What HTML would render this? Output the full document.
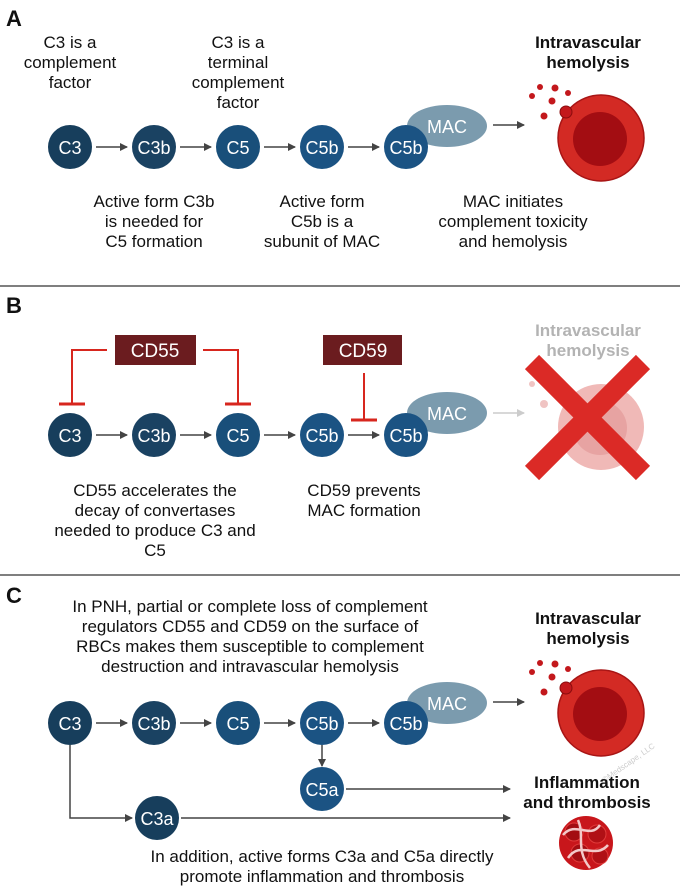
<!DOCTYPE html>
<html><head><meta charset="utf-8"><style>
html,body{margin:0;padding:0;background:#fff}
svg{display:block}
text{font-family:"Liberation Sans",Arial,sans-serif;font-size:17px;fill:#111;text-anchor:middle}
.b{font-weight:bold}
.lab{font-size:22px;font-weight:bold;text-anchor:start}
.ct{fill:#fff;font-size:18px}
</style></head><body>
<svg width="680" height="894" viewBox="0 0 680 894" xmlns="http://www.w3.org/2000/svg">
<defs>
<marker id="ah" markerWidth="8" markerHeight="8" refX="7" refY="4" orient="auto" markerUnits="userSpaceOnUse"><path d="M0,0 L8,4 L0,8 z" fill="#444"/></marker>
<marker id="ahg" markerWidth="8" markerHeight="8" refX="7" refY="4" orient="auto" markerUnits="userSpaceOnUse"><path d="M0,0 L8,4 L0,8 z" fill="#ccc"/></marker>
</defs>

<!-- Panel A -->
<text class="lab" x="6" y="26">A</text>
<text x="70" y="48">C3 is a</text><text x="70" y="68">complement</text><text x="70" y="88">factor</text>
<text x="238" y="48">C3 is a</text><text x="238" y="68">terminal</text><text x="238" y="88">complement</text><text x="238" y="108">factor</text>
<text class="b" x="588" y="48">Intravascular</text><text class="b" x="588" y="68">hemolysis</text>
<g stroke="#444" stroke-width="1.5" marker-end="url(#ah)">
<line x1="96" y1="147" x2="127" y2="147"/><line x1="180" y1="147" x2="211" y2="147"/><line x1="264" y1="147" x2="295" y2="147"/><line x1="348" y1="147" x2="379" y2="147"/><line x1="493" y1="125" x2="524" y2="125"/>
</g>
<ellipse cx="447" cy="126" rx="40" ry="21" fill="#7b9bae"/><text class="ct" x="447" y="133">MAC</text>
<circle cx="70" cy="147" r="22" fill="#173e5c"/><text class="ct" x="70" y="154">C3</text>
<circle cx="154" cy="147" r="22" fill="#1a4262"/><text class="ct" x="154" y="154">C3b</text>
<circle cx="238" cy="147" r="22" fill="#194f7a"/><text class="ct" x="238" y="154">C5</text>
<circle cx="322" cy="147" r="22" fill="#1b5383"/><text class="ct" x="322" y="154">C5b</text>
<circle cx="406" cy="147" r="22" fill="#1b5383"/><text class="ct" x="406" y="154">C5b</text>
<g>
<circle cx="601" cy="138" r="43" fill="#d32a24" stroke="#a81515" stroke-width="1.5"/><circle cx="600" cy="139" r="27" fill="#a30d12"/>
<circle cx="566" cy="112" r="6" fill="#c3181c" stroke="#8a0c0e"/>
<circle cx="544" cy="116" r="3.5" fill="#c3181c"/><circle cx="552" cy="101" r="3.5" fill="#c3181c"/><circle cx="540" cy="87" r="3" fill="#c3181c"/><circle cx="532" cy="96" r="3" fill="#c3181c"/><circle cx="555" cy="88" r="3.5" fill="#c3181c"/><circle cx="568" cy="93" r="3" fill="#c3181c"/>
</g>
<text x="154" y="207">Active form C3b</text><text x="154" y="227">is needed for</text><text x="154" y="247">C5 formation</text>
<text x="322" y="207">Active form</text><text x="322" y="227">C5b is a</text><text x="322" y="247">subunit of MAC</text>
<text x="513" y="207">MAC initiates</text><text x="513" y="227">complement toxicity</text><text x="513" y="247">and hemolysis</text>
<line x1="0" y1="286" x2="680" y2="286" stroke="#555" stroke-width="1.5"/>

<!-- Panel B -->
<text class="lab" x="6" y="313">B</text>
<text class="b" x="588" y="336" style="fill:#b3b3b3">Intravascular</text><text class="b" x="588" y="356" style="fill:#b3b3b3">hemolysis</text>
<rect x="115" y="335" width="81" height="30" fill="#6b1c1f"/><text x="155" y="357" style="fill:#fff;font-size:19px">CD55</text>
<rect x="323" y="335" width="79" height="30" fill="#6b1c1f"/><text x="363" y="357" style="fill:#fff;font-size:19px">CD59</text>
<g stroke="#d7261e" stroke-width="2" fill="none">
<polyline points="107,350 72,350 72,404"/><line x1="59" y1="404" x2="85" y2="404" stroke-width="3"/>
<polyline points="203,350 238,350 238,404"/><line x1="225" y1="404" x2="251" y2="404" stroke-width="3"/>
<line x1="364" y1="373" x2="364" y2="420"/><line x1="351" y1="420" x2="377" y2="420" stroke-width="3"/>
</g>
<g stroke="#444" stroke-width="1.5" marker-end="url(#ah)">
<line x1="96" y1="435" x2="127" y2="435"/><line x1="180" y1="435" x2="211" y2="435"/><line x1="264" y1="435" x2="295" y2="435"/><line x1="348" y1="435" x2="379" y2="435"/>
</g>
<line x1="493" y1="413" x2="524" y2="413" stroke="#ccc" stroke-width="1.5" marker-end="url(#ahg)"/>
<ellipse cx="447" cy="413" rx="40" ry="21" fill="#7b9bae"/><text class="ct" x="447" y="420">MAC</text>
<circle cx="70" cy="435" r="22" fill="#173e5c"/><text class="ct" x="70" y="442">C3</text>
<circle cx="154" cy="435" r="22" fill="#1a4262"/><text class="ct" x="154" y="442">C3b</text>
<circle cx="238" cy="435" r="22" fill="#194f7a"/><text class="ct" x="238" y="442">C5</text>
<circle cx="322" cy="435" r="22" fill="#1b5383"/><text class="ct" x="322" y="442">C5b</text>
<circle cx="406" cy="435" r="22" fill="#1b5383"/><text class="ct" x="406" y="442">C5b</text>
<circle cx="601" cy="427" r="43" fill="#f0b9b7"/><circle cx="600" cy="428" r="27" fill="#e7a3a2"/>
<circle cx="544" cy="404" r="4" fill="#f0c4c3"/><circle cx="532" cy="384" r="3" fill="#f0c4c3"/>
<g stroke="#db2a26" stroke-width="20"><line x1="532" y1="362" x2="643" y2="473"/><line x1="643" y1="362" x2="532" y2="473"/></g>
<text x="155" y="496">CD55 accelerates the</text><text x="155" y="516">decay of convertases</text><text x="155" y="536">needed to produce C3 and</text><text x="155" y="556">C5</text>
<text x="364" y="496">CD59 prevents</text><text x="364" y="516">MAC formation</text>
<line x1="0" y1="575" x2="680" y2="575" stroke="#555" stroke-width="1.5"/>

<!-- Panel C -->
<text class="lab" x="6" y="603">C</text>
<text x="250" y="612">In PNH, partial or complete loss of complement</text>
<text x="250" y="632">regulators CD55 and CD59 on the surface of</text>
<text x="250" y="652">RBCs makes them susceptible to complement</text>
<text x="250" y="672">destruction and intravascular hemolysis</text>
<text class="b" x="588" y="624">Intravascular</text><text class="b" x="588" y="644">hemolysis</text>
<g stroke="#444" stroke-width="1.5" fill="none">
<line x1="96" y1="723" x2="127" y2="723" marker-end="url(#ah)"/><line x1="180" y1="723" x2="211" y2="723" marker-end="url(#ah)"/><line x1="264" y1="723" x2="295" y2="723" marker-end="url(#ah)"/><line x1="348" y1="723" x2="379" y2="723" marker-end="url(#ah)"/>
<line x1="493" y1="702" x2="524" y2="702" marker-end="url(#ah)"/>
<line x1="322" y1="745" x2="322" y2="766" marker-end="url(#ah)"/>
<polyline points="70,745 70,818 132,818" marker-end="url(#ah)"/>
<line x1="346" y1="789" x2="510" y2="789" marker-end="url(#ah)"/>
<line x1="181" y1="818" x2="510" y2="818" marker-end="url(#ah)"/>
</g>
<ellipse cx="447" cy="703" rx="40" ry="21" fill="#7b9bae"/><text class="ct" x="447" y="710">MAC</text>
<circle cx="70" cy="723" r="22" fill="#173e5c"/><text class="ct" x="70" y="730">C3</text>
<circle cx="154" cy="723" r="22" fill="#1a4262"/><text class="ct" x="154" y="730">C3b</text>
<circle cx="238" cy="723" r="22" fill="#194f7a"/><text class="ct" x="238" y="730">C5</text>
<circle cx="322" cy="723" r="22" fill="#1b5383"/><text class="ct" x="322" y="730">C5b</text>
<circle cx="406" cy="723" r="22" fill="#1b5383"/><text class="ct" x="406" y="730">C5b</text>
<circle cx="322" cy="789" r="22" fill="#1b5383"/><text class="ct" x="322" y="796">C5a</text>
<circle cx="157" cy="818" r="22" fill="#173e5c"/><text class="ct" x="157" y="825">C3a</text>
<circle cx="601" cy="713" r="43" fill="#d32a24" stroke="#a81515" stroke-width="1.5"/><circle cx="600" cy="714" r="27" fill="#a30d12"/>
<circle cx="566" cy="688" r="6" fill="#c3181c" stroke="#8a0c0e"/>
<circle cx="544" cy="692" r="3.5" fill="#c3181c"/><circle cx="552" cy="677" r="3.5" fill="#c3181c"/><circle cx="540" cy="663" r="3" fill="#c3181c"/><circle cx="532" cy="672" r="3" fill="#c3181c"/><circle cx="555" cy="664" r="3.5" fill="#c3181c"/><circle cx="568" cy="669" r="3" fill="#c3181c"/>
<text x="630" y="765" style="font-size:8px;fill:#ccc" transform="rotate(-35 630 765)">©Medscape, LLC</text>
<text class="b" x="587" y="788">Inflammation</text><text class="b" x="587" y="808">and thrombosis</text>
<g>
<circle cx="586" cy="843" r="27" fill="#c8161b"/>
<circle cx="574" cy="832" r="9" fill="#a30d12" stroke="#e03a3a"/><circle cx="597" cy="834" r="9" fill="#b01015" stroke="#e03a3a"/><circle cx="580" cy="853" r="9" fill="#a30d12" stroke="#e03a3a"/><circle cx="600" cy="856" r="8" fill="#b01015" stroke="#e03a3a"/>
<path d="M563,835 C575,820 590,840 600,825 M568,858 C580,840 595,860 608,845 M578,820 C585,835 575,850 590,868" stroke="#f3c9c9" stroke-width="2.5" fill="none"/>
</g>
<text x="322" y="862">In addition, active forms C3a and C5a directly</text>
<text x="322" y="882">promote inflammation and thrombosis</text>
</svg>
</body></html>
